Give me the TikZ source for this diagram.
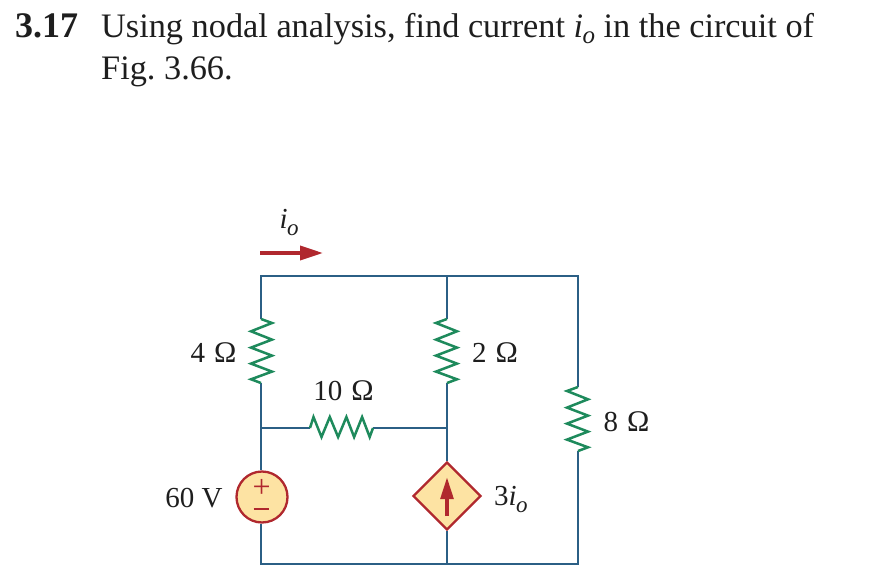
\documentclass[tikz,border=0pt]{standalone}
\usepackage{fontspec}
\setmainfont{Liberation Serif}
\usetikzlibrary{shapes.geometric,arrows.meta,calc}
\definecolor{wirec}{HTML}{2B5F85}
\definecolor{resc}{HTML}{1E8A5C}
\definecolor{redc}{HTML}{B0282E}
\definecolor{fillc}{HTML}{FDE3A3}
\definecolor{textc}{HTML}{1E1E1E}
\newcommand{\iosub}[2]{\textit{i}\kern-0.02em\raisebox{-#2pt}{\fontsize{#1}{#1}\selectfont\textit{o}}}
\newcommand{\ohm}[1]{#1\hspace{0.31em}{\fontsize{30}{30}\selectfont Ω}}
\tikzset{
  wire/.style={draw=wirec,line width=2.5pt},
  zig/.style={draw=resc,line width=2.5pt,line join=miter},
  vsrc/.style={circle,draw=redc,fill=fillc,line width=2.3pt,minimum size=51pt,inner sep=0pt},
  dsrc/.style={diamond,aspect=1,draw=redc,fill=fillc,line width=2.3pt,minimum size=68pt,inner sep=0pt},
  redarrow/.style={draw=redc,line width=3.6pt,-{Triangle[length=23pt,width=14pt]}},
  uparrow/.style={draw=redc,line width=4pt,-{Triangle[length=22pt,width=12.5pt]}},
  lab/.style={text=textc,font=\fontsize{29}{29}\selectfont,anchor=base,inner sep=0pt},
  para/.style={text=textc,font=\fontsize{34.3}{34.3}\selectfont\frenchspacing,anchor=base west,inner sep=0pt}
}
\begin{document}
\begin{tikzpicture}[x=1pt,y=-1pt]
\useasboundingbox (0,0) rectangle (892,581);
\fill[white] (0,0) rectangle (892,581);
% text
\node[para,font=\fontsize{36}{36}\selectfont\bfseries] (num) at (15,37.5) {3.17};
\node[para] (l1) at (101,37.5) {Using nodal analysis, find current \iosub{25}{6} in the circuit of};
\node[para] (l2) at (101,79.5) {Fig. 3.66.};
% junctions
\coordinate (tl) at (261,276);
\coordinate (tm) at (447,276);
\coordinate (tr) at (578,276);
\coordinate (bl) at (261,564);
\coordinate (bm) at (447,564);
\coordinate (br) at (578,564);
\coordinate (ml) at (261,428);
\coordinate (mm) at (447,428);
\coordinate (r4a) at (261,319);
\coordinate (r4b) at (261,383);
\coordinate (r2a) at (447,319);
\coordinate (r2b) at (447,383);
\coordinate (r8a) at (578,387);
\coordinate (r8b) at (578,451);
\coordinate (r10a) at (310,428);
\coordinate (r10b) at (373,428);
% sources
\node[vsrc] (vs) at (262,497) {};
\node[dsrc] (ds) at (447,496) {};
% wires
\draw[wire,line join=miter] (r4a) -- (tl) -- (tm) -- (tr) -- (r8a);
\draw[wire] (tm) -- (r2a);
\draw[wire] (r4b) -- (ml) -- (r10a);
\draw[wire] (ml) -- (ml |- vs.north);
\draw[wire] (r10b) -- (mm);
\draw[wire] (r2b) -- (mm) -- (ds.north);
\draw[wire,line join=miter] (bl |- vs.south) -- (bl) -- (bm) -- (br) -- (r8b);
\draw[wire] (ds.south) -- (bm);
% resistors
\draw[zig] (r4a) -- ++(11,4) -- ++(-21,8.3) -- ++(21,8.3) -- ++(-21,8) -- ++(21,8) -- ++(-21,8) -- ++(21,8) -- ++(-21,7.7) -- (r4b);
\draw[zig] (r2a) -- ++(-11,4) -- ++(21,8.3) -- ++(-21,8.3) -- ++(21,8) -- ++(-21,8) -- ++(21,8) -- ++(-21,8) -- ++(21,7.7) -- (r2b);
\draw[zig] (r8a) -- ++(-11,4) -- ++(21,8.3) -- ++(-21,8.3) -- ++(21,8) -- ++(-21,8) -- ++(21,8) -- ++(-21,8) -- ++(21,7.7) -- (r8b);
\draw[zig] (r10a) -- ++(3.5,-11) -- ++(8,20) -- ++(8.3,-20) -- ++(8.3,20) -- ++(8.3,-20) -- ++(7.7,20) -- ++(8,-20) -- ++(7.6,20) -- (r10b);
% source marks
\node[text=redc,font=\fontsize{32}{32}\selectfont,inner sep=0pt] (plus) at (261.7,488) {+};
\coordinate (ma) at (253.5,509);
\coordinate (mb) at (269,509);
\draw[redc,line width=1.9pt] (ma) -- (mb);
\coordinate (da) at (447,516);
\coordinate (db) at (447,477);
\draw[uparrow] (da) -- (db);
\coordinate (ia) at (260,253);
\coordinate (ib) at (323,253);
\draw[redarrow] (ia) -- (ib);
% labels
\node[lab] (t4) at (213.5,362) {\ohm{4}};
\node[lab] (t10) at (343.5,400) {\ohm{10}};
\node[lab] (t2) at (495,362) {\ohm{2}};
\node[lab] (t8) at (626.5,431) {\ohm{8}};
\node[lab] (t60) at (194,507) {60 V};
\node[lab,anchor=base west] (t3i) at (494,505.5) {3\iosub{23}{7}};
\node[lab,anchor=base west] (tio) at (279.5,228) {\iosub{23}{7.5}};
\end{tikzpicture}
\end{document}
